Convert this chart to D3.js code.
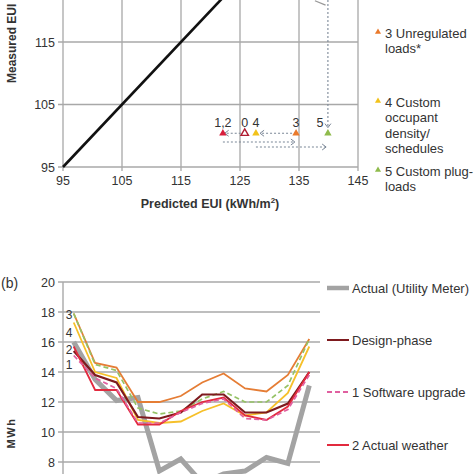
<!DOCTYPE html>
<html>
<head>
<meta charset="utf-8">
<script src="https://cdn.jsdelivr.net/npm/d3@7"></script>
<style>
  body { margin: 0; background: #fff; }
  svg { display: block; font-family: "Liberation Sans", Arial, sans-serif; }
</style>
</head>
<body>
<svg id="chart" width="474" height="474"></svg>
<script>
// ---- panel (a) data ----
let euiTicks = [95, 105, 115, 125, 135, 145];
let scenarioNames = ['1,2', '0', '4', '3', '5'];
let predictedEUI = [122.1, 125.8, 127.7, 134.5, 139.9];
let measuredEUI = [100.4, 100.4, 100.4, 100.4, 100.4];
let scenarioColors = ['#d81e3c', '#b01c30', '#f2c21a', '#ea7a2c', '#8fbb4c'];
// arrows between scenarios: from x, to x, at y
let arrowFrom = [125.8, 134.5, 122.1, 127.7];
let arrowTo = [122.4, 128.4, 134.3, 139.6];
let arrowLevel = [100.4, 100.4, 99.0, 98.2];

let legendTopLines = [
    ['3 Unregulated', 'loads*'],
    ['4 Custom', 'occupant', 'density/', 'schedules'],
    ['5 Custom plug-', 'loads']
];
let legendTopColors = ['#ea7a2c', '#f2c21a', '#8fbb4c'];

// ---- panel (b) data ----
let months = ['Jan', 'Feb', 'Mar', 'Apr', 'May', 'Jun', 'Jul', 'Aug', 'Sep', 'Oct', 'Nov', 'Dec'];
let mwhTicks = [8, 10, 12, 14, 16, 18, 20];
let actualMeter = [16.0, 13.5, 12.1, 12.3, 7.4, 8.2, 6.6, 7.2, 7.4, 8.3, 7.9, 13.1];
let designPhase = [15.4, 13.8, 13.3, 11.0, 10.9, 11.3, 12.5, 12.5, 11.3, 11.3, 11.9, 14.0];
let softwareUpgrade = [15.1, 13.6, 12.9, 10.6, 10.6, 11.3, 11.9, 12.2, 10.9, 10.8, 11.5, 13.8];
let actualWeather = [15.7, 12.8, 12.8, 10.5, 10.5, 11.4, 12.0, 12.3, 11.1, 10.8, 11.7, 14.0];
let unregulatedLoads = [17.9, 14.6, 14.3, 12.0, 12.0, 12.4, 13.3, 13.9, 12.9, 12.7, 13.8, 16.2];
let occupantDensity = [17.3, 14.0, 13.6, 10.8, 10.6, 10.7, 11.4, 11.9, 11.1, 11.3, 12.6, 15.7];
let plugLoads = [17.9, 14.5, 14.1, 11.6, 11.2, 11.4, 12.2, 12.7, 12.0, 12.0, 13.1, 16.2];

let svg = d3.select('#chart');
let textColor = '#333';
let gridColor = '#a8a8a8';

// ================= panel (a) =================
let xTop = d3.scaleLinear().domain([95, 145]).range([63, 358]);
let yTop = d3.scaleLinear().domain([95, 145]).range([167, -145.5]);

let panelA = svg.append('g');

// grid
panelA.selectAll('.vgrid')
    .data(euiTicks)
    .enter()
    .append('line')
    .attr('x1', (d) => xTop(d))
    .attr('x2', (d) => xTop(d))
    .attr('y1', 0)
    .attr('y2', yTop(95) + 4)
    .attr('stroke', gridColor)
    .attr('stroke-width', 1.3);

panelA.selectAll('.hgrid')
    .data(euiTicks)
    .enter()
    .append('line')
    .attr('x1', xTop(95) - 5)
    .attr('x2', xTop(145))
    .attr('y1', (d) => yTop(d))
    .attr('y2', (d) => yTop(d))
    .attr('stroke', gridColor)
    .attr('stroke-width', 1.3);

// tick labels
panelA.selectAll('.xlab')
    .data(euiTicks)
    .enter()
    .append('text')
    .attr('x', (d) => xTop(d))
    .attr('y', yTop(95) + 18)
    .attr('text-anchor', 'middle')
    .attr('font-size', 12.5)
    .attr('fill', textColor)
    .text((d) => d);

// only the y labels that fall inside the picture
panelA.selectAll('.ylab')
    .data(euiTicks.filter((d) => yTop(d) > 8))
    .enter()
    .append('text')
    .attr('x', xTop(95) - 8)
    .attr('y', (d) => yTop(d) + 4.5)
    .attr('text-anchor', 'end')
    .attr('font-size', 12.5)
    .attr('fill', textColor)
    .text((d) => d);

// axis titles
let xTitle = panelA.append('text')
    .attr('x', 210)
    .attr('y', 208)
    .attr('text-anchor', 'middle')
    .attr('font-size', 12.5)
    .attr('font-weight', 'bold')
    .attr('fill', textColor);
xTitle.append('tspan').text('Predicted EUI (kWh/m');
xTitle.append('tspan').attr('font-size', 8).attr('dy', -5).text('2');
xTitle.append('tspan').attr('dy', 5).text(')');

panelA.append('text')
    .attr('transform', 'translate(16, 83) rotate(-90)')
    .attr('font-size', 12)
    .attr('font-weight', 'bold')
    .attr('fill', textColor)
    .text('Measured EUI (kWh/m²)');

// 1:1 line
panelA.append('line')
    .attr('x1', xTop(95))
    .attr('y1', yTop(95))
    .attr('x2', xTop(125))
    .attr('y2', yTop(125))
    .attr('stroke', '#111')
    .attr('stroke-width', 2.6);

// dashed arrows
let arrowColor = '#7b8797';
let arrowHead = (g, x, y, dir) => {
    g.append('path')
        .attr('d', 'M' + (x - dir * 4) + ',' + (y - 3) + 'L' + x + ',' + y + 'L' + (x - dir * 4) + ',' + (y + 3))
        .attr('fill', 'none')
        .attr('stroke', arrowColor)
        .attr('stroke-width', 1);
};
arrowFrom.forEach((f, i) => {
    let y = yTop(arrowLevel[i]);
    panelA.append('line')
        .attr('x1', xTop(f))
        .attr('x2', xTop(arrowTo[i]))
        .attr('y1', y)
        .attr('y2', y)
        .attr('stroke', arrowColor)
        .attr('stroke-width', 1.1)
        .attr('stroke-dasharray', '2,2');
    arrowHead(panelA, xTop(arrowTo[i]), y, arrowTo[i] > f ? 1 : -1);
});

// vertical arrow down to scenario 5
panelA.append('line')
    .attr('x1', xTop(139.9))
    .attr('x2', xTop(139.9))
    .attr('y1', 0)
    .attr('y2', yTop(101.3))
    .attr('stroke', arrowColor)
    .attr('stroke-width', 1.1)
    .attr('stroke-dasharray', '2,2');
panelA.append('path')
    .attr('d', 'M' + (xTop(139.9) - 3) + ',' + (yTop(101.3) - 4) + 'L' + xTop(139.9) + ',' + yTop(101.3) + 'L' + (xTop(139.9) + 3) + ',' + (yTop(101.3) - 4))
    .attr('fill', 'none')
    .attr('stroke', arrowColor)
    .attr('stroke-width', 1);
panelA.append('line')
    .attr('x1', xTop(137.7))
    .attr('x2', xTop(139.5))
    .attr('y1', yTop(121.6))
    .attr('y2', yTop(120.9))
    .attr('stroke', '#999')
    .attr('stroke-width', 1.3);

// scenario markers
let tri = d3.symbol().type(d3.symbolTriangle).size(24);
panelA.selectAll('.pt')
    .data(predictedEUI)
    .enter()
    .append('path')
    .attr('d', tri)
    .attr('transform', (d, i) => 'translate(' + xTop(d) + ',' + yTop(measuredEUI[i]) + ')')
    .attr('fill', (d, i) => scenarioNames[i] === '0' ? '#fff' : scenarioColors[i])
    .attr('stroke', (d, i) => scenarioNames[i] === '0' ? scenarioColors[i] : 'none')
    .attr('stroke-width', 1.4);

panelA.selectAll('.ptlab')
    .data(predictedEUI)
    .enter()
    .append('text')
    .attr('x', (d, i) => xTop(d) - (scenarioNames[i] === '5' ? 8 : 0))
    .attr('y', (d, i) => yTop(measuredEUI[i]) - 6)
    .attr('text-anchor', 'middle')
    .attr('font-size', 12.5)
    .attr('fill', textColor)
    .text((d, i) => scenarioNames[i]);

// legend (a)
let legTop = [33, 102, 171];
legendTopLines.forEach((lines, i) => {
    panelA.append('path')
        .attr('d', d3.symbol().type(d3.symbolTriangle).size(16))
        .attr('transform', 'translate(378,' + (legTop[i] - 1) + ')')
        .attr('fill', legendTopColors[i]);
    lines.forEach((t, j) => {
        panelA.append('text')
            .attr('x', 385)
            .attr('y', legTop[i] + j * 15.5 + 4.5)
            .attr('font-size', 13)
            .attr('fill', textColor)
            .text(t);
    });
});

// ================= panel (b) =================
let xB = d3.scalePoint().domain(months).range([63, 320]).padding(0.5);
let yB = d3.scaleLinear().domain([8, 20]).range([462, 282]);

let panelB = svg.append('g');

panelB.append('text')
    .attr('x', 1)
    .attr('y', 288)
    .attr('font-size', 14)
    .attr('fill', textColor)
    .text('(b)');

panelB.selectAll('.bgrid')
    .data(mwhTicks)
    .enter()
    .append('line')
    .attr('x1', 58)
    .attr('x2', 320)
    .attr('y1', (d) => yB(d))
    .attr('y2', (d) => yB(d))
    .attr('stroke', gridColor)
    .attr('stroke-width', 1.4);

panelB.append('line')
    .attr('x1', 63)
    .attr('x2', 63)
    .attr('y1', yB(20))
    .attr('y2', 474)
    .attr('stroke', gridColor)
    .attr('stroke-width', 1.4);

panelB.selectAll('.blab')
    .data(mwhTicks)
    .enter()
    .append('text')
    .attr('x', 55)
    .attr('y', (d) => yB(d) + 4.5)
    .attr('text-anchor', 'end')
    .attr('font-size', 12.5)
    .attr('fill', textColor)
    .text((d) => d);

panelB.append('text')
    .attr('transform', 'translate(15, 433) rotate(-90)')
    .attr('text-anchor', 'middle')
    .attr('font-size', 11)
    .attr('font-weight', 'bold')
    .attr('letter-spacing', 1.5)
    .attr('fill', textColor)
    .text('MWh');

let series = [
    { name: 'Actual (Utility Meter)', values: actualMeter, color: '#a3a3a3', width: 5, dash: null },
    { name: '3 Unregulated loads*', values: unregulatedLoads, color: '#e57d35', width: 1.8, dash: null },
    { name: '5 Custom plug-loads', values: plugLoads, color: '#95c265', width: 1.7, dash: '5,3' },
    { name: '4 Custom occupant density/schedules', values: occupantDensity, color: '#f6c02a', width: 1.8, dash: null },
    { name: 'Design-phase', values: designPhase, color: '#7e1a1e', width: 2.2, dash: null },
    { name: '2 Actual weather', values: actualWeather, color: '#e22a3e', width: 1.8, dash: null },
    { name: '1 Software upgrade', values: softwareUpgrade, color: '#e060a0', width: 1.7, dash: '5,3' }
];

let line = d3.line()
    .x((d, i) => xB(months[i]))
    .y((d) => yB(d));

panelB.selectAll('.series')
    .data(series)
    .enter()
    .append('path')
    .attr('d', (s) => line(s.values))
    .attr('fill', 'none')
    .attr('stroke', (s) => s.color)
    .attr('stroke-width', (s) => s.width)
    .attr('stroke-dasharray', (s) => s.dash)
    .attr('stroke-linejoin', 'miter');

// start labels
let startLabels = ['3', '4', '2', '1'];
let startLabelY = [17.8, 16.6, 15.5, 14.5];
startLabels.forEach((t, i) => {
    panelB.append('text')
        .attr('x', 69)
        .attr('y', yB(startLabelY[i]) + 4)
        .attr('text-anchor', 'middle')
        .attr('font-size', 12)
        .attr('fill', textColor)
        .text(t);
});

// legend (b)
let legendB = [series[0], series[4], series[6], series[5]];
let legY = [288, 340, 392, 445];
legendB.forEach((s, i) => {
    panelB.append('line')
        .attr('x1', 327)
        .attr('x2', 349)
        .attr('y1', legY[i])
        .attr('y2', legY[i])
        .attr('stroke', s.color)
        .attr('stroke-width', s.width === 5 ? 4.5 : 2)
        .attr('stroke-dasharray', s.dash);
    panelB.append('text')
        .attr('x', 352)
        .attr('y', legY[i] + 4.5)
        .attr('font-size', 13)
        .attr('fill', textColor)
        .text(s.name);
});
</script>
</body>
</html>
